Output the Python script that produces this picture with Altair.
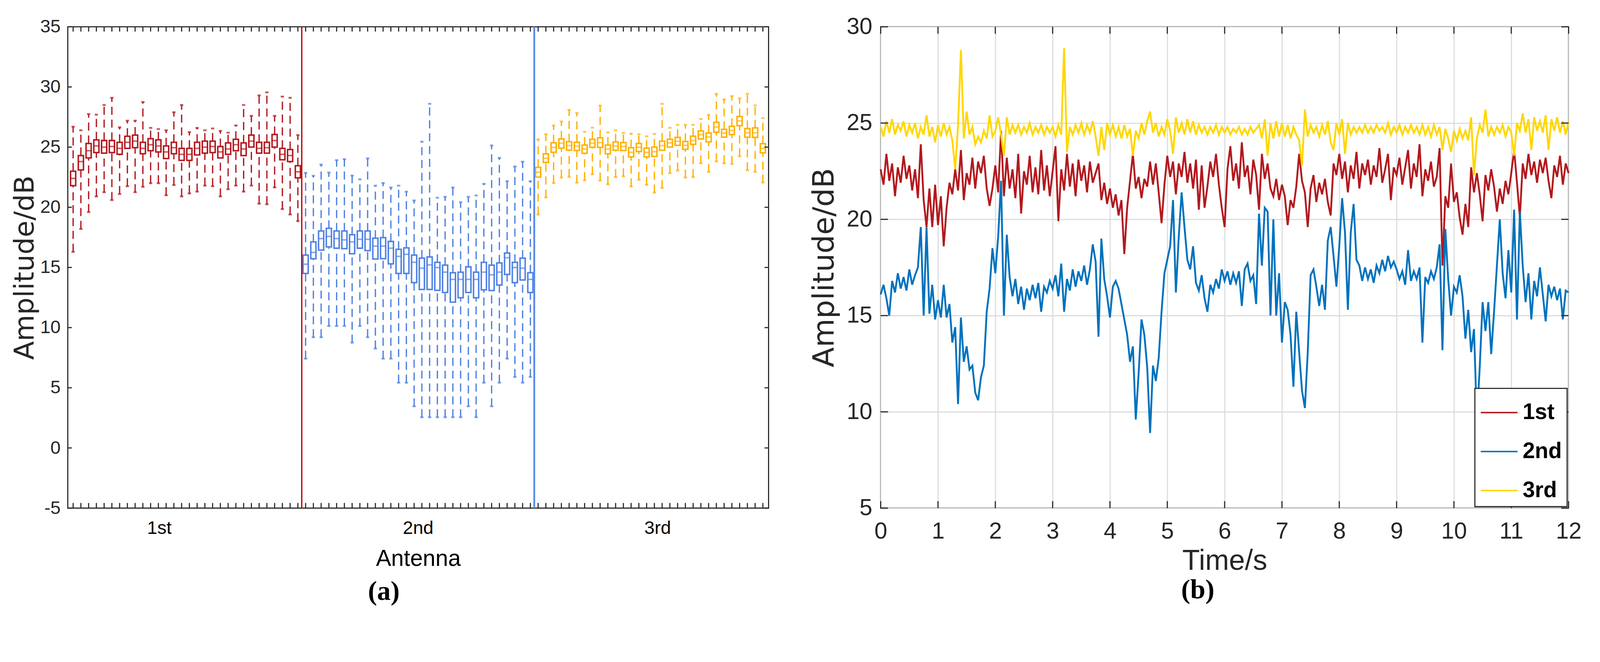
import altair as alt
import pandas as pd

NARROW = "Liberation Sans"
WIDE = "DejaVu Sans"
INK = "#262626"

# ---------------- panel (a): box statistics per antenna element ----------------
groups = ["1st", "2nd", "3rd"]
panel_labels = ["(a)", "(b)"]
box_colors = ["#B2181E", "#4F81E2", "#FFB000"]
sep_pos = [30.5, 60.5]
sep_colors = ["#C40000", "#5B8DEB"]
group_label_pos = [12.1, 45.5, 76.4]
ya_ticks = [-5, 0, 5, 10, 15, 20, 25, 30, 35]

first_hi = [26.7, 26.4, 27.75, 27.7, 28.5, 29.1, 26.65, 27.2, 27.2, 28.75, 26.6, 26.5, 26.4, 27.9, 28.5,
            26.25, 26.6, 26.4, 26.55, 26.35, 26.2, 26.8, 28.5, 27.6, 29.3, 29.55, 27.6, 29.2, 29.1, 26.0]
first_q3 = [23.0, 24.3, 25.3, 25.6, 25.55, 25.55, 25.4, 25.9, 26.0, 25.4, 25.7, 25.6, 25.1, 25.4, 24.9,
            24.9, 25.4, 25.5, 25.5, 25.05, 25.35, 25.65, 25.35, 26.0, 25.4, 25.4, 26.05, 24.9, 24.8, 23.45]
first_med = [22.4, 23.8, 24.7, 25.1, 25.0, 25.05, 24.9, 25.4, 25.5, 24.9, 25.2, 25.1, 24.6, 24.95, 24.4,
             24.4, 24.9, 25.0, 25.05, 24.6, 24.85, 25.2, 24.85, 25.5, 24.9, 24.95, 25.55, 24.4, 24.3, 22.95]
first_q1 = [21.8, 23.1, 24.1, 24.55, 24.5, 24.55, 24.4, 24.9, 24.95, 24.45, 24.7, 24.6, 24.05, 24.45, 23.9,
            23.9, 24.35, 24.5, 24.55, 24.1, 24.4, 24.7, 24.3, 25.0, 24.5, 24.5, 25.0, 23.95, 23.8, 22.45]
first_lo = [16.3, 18.2, 19.6, 20.9, 21.25, 20.6, 21.1, 21.75, 21.25, 21.7, 22.0, 22.0, 21.0, 21.85, 20.9,
            21.15, 21.3, 21.8, 21.75, 20.9, 21.5, 21.8, 21.3, 21.8, 20.3, 20.25, 21.65, 19.85, 19.4, 18.85]

second_hi = [22.86, 22.62, 23.55, 22.89, 23.92, 24.0, 22.64, 22.32, 24.06, 21.8, 22.02, 21.65, 21.8, 21.3, 20.57,
             25.45, 28.6, 20.79, 20.87, 21.64, 20.42, 20.87, 20.98, 21.95, 25.14, 24.11, 22.17, 23.39, 23.79, 22.17]
second_q3 = [16.03, 17.12, 18.03, 18.25, 18.03, 18.03, 17.72, 18.03, 18.03, 17.43, 17.48, 17.16, 16.51, 16.63, 16.03,
             15.78, 15.87, 15.43, 15.19, 14.56, 14.61, 15.05, 14.61, 15.43, 15.19, 15.38, 16.2, 15.43, 15.78, 14.56]
second_med = [15.27, 16.25, 17.4, 17.58, 17.4, 17.29, 17.12, 17.34, 17.34, 16.77, 16.77, 16.6, 15.92, 16.09, 15.43,
              14.94, 15.21, 14.99, 14.61, 14.01, 14.01, 14.01, 14.01, 14.61, 14.39, 14.61, 15.81, 14.99, 14.94, 14.01]
second_q1 = [14.5, 15.73, 16.44, 16.71, 16.6, 16.56, 16.14, 16.6, 16.4, 15.7, 15.73, 15.3, 14.5, 14.5, 13.74,
             13.17, 13.17, 13.1, 12.92, 12.12, 12.48, 12.92, 12.48, 13.14, 13.08, 13.54, 14.42, 13.74, 13.96, 12.92]
second_lo = [7.42, 9.2, 9.2, 10.13, 10.13, 10.13, 8.75, 10.13, 9.2, 8.26, 7.42, 7.42, 5.42, 5.42, 3.46,
             2.55, 2.55, 2.55, 2.55, 2.55, 2.55, 3.46, 2.55, 5.42, 3.46, 5.42, 7.42, 5.9, 5.42, 5.9]

third_hi = [25.65, 26.07, 26.8, 27.13, 28.1, 27.84, 26.27, 26.62, 28.45, 26.22, 26.4, 26.18, 26.12, 26.07, 25.9,
            26.09, 28.6, 26.61, 26.85, 26.85, 26.85, 27.34, 27.68, 29.43, 28.96, 29.24, 29.05, 29.43, 28.47, 27.41]
third_q3 = [23.32, 24.44, 25.36, 25.68, 25.45, 25.41, 25.17, 25.65, 25.77, 25.17, 25.43, 25.38, 24.95, 25.3, 24.92,
            25.0, 25.5, 25.65, 25.81, 25.47, 25.91, 26.35, 26.18, 27.06, 26.48, 26.73, 27.54, 26.54, 26.6, 25.29]
third_med = [22.91, 24.08, 24.98, 25.33, 25.13, 25.09, 24.85, 25.33, 25.37, 24.84, 25.1, 25.06, 24.57, 24.98, 24.57,
             24.62, 25.13, 25.35, 25.49, 25.15, 25.55, 26.04, 25.84, 26.67, 26.16, 26.39, 27.18, 26.19, 26.19, 24.89]
third_q1 = [22.51, 23.73, 24.57, 24.92, 24.75, 24.72, 24.49, 24.99, 24.98, 24.45, 24.74, 24.72, 24.19, 24.64, 24.19,
            24.23, 24.74, 25.0, 25.15, 24.82, 25.23, 25.68, 25.43, 26.24, 25.83, 26.04, 26.78, 25.82, 25.81, 24.52]
third_lo = [19.39, 20.82, 22.01, 22.47, 22.52, 22.04, 22.25, 22.74, 22.22, 21.91, 22.51, 22.57, 21.73, 22.28, 21.86,
            21.22, 21.61, 22.83, 23.05, 22.47, 22.51, 23.65, 22.94, 23.81, 23.65, 23.6, 24.24, 23.08, 22.94, 22.05]

# ---------------- panel (b): amplitude over time, 0.05 s steps ----------------
line_colors = ["#B2191E", "#0072BD", "#FFD700"]
xb_ticks = list(range(0, 13))
yb_ticks = [5, 10, 15, 20, 25, 30]

first_ts = [
    22.6, 21.8, 23.4, 22.0, 22.9, 21.2, 22.7, 21.9, 23.3, 22.1, 22.8, 21.5, 22.6, 21.1, 23.9, 21.0, 19.6, 21.6, 19.6, 21.8,
    19.7, 21.2, 18.6, 20.6, 21.9, 21.3, 22.6, 21.5, 23.6, 21.0, 22.4, 21.8, 23.2, 21.6, 23.0, 22.4, 23.3, 21.6, 20.7, 21.6,
    22.8, 21.4, 24.6, 21.2, 23.2, 21.6, 22.6, 21.1, 23.4, 20.3, 22.5, 21.8, 23.3, 21.4, 22.7, 21.3, 23.6, 21.5, 22.8, 21.2,
    22.5, 23.8, 19.9, 22.6, 21.5, 23.4, 21.7, 22.9, 21.2, 23.1, 22.0, 22.8, 21.4, 23.0, 21.9, 22.4, 22.9, 21.0, 21.9, 20.8,
    21.6, 20.6, 21.3, 20.2, 21.0, 18.2, 20.6, 22.0, 23.4, 21.6, 22.2, 21.1, 22.1, 21.7, 23.0, 21.8, 22.9, 21.4, 19.8, 21.8,
    23.3, 22.2, 23.0, 21.3, 22.9, 22.2, 23.5, 21.9, 22.9, 21.6, 23.1, 20.5, 22.8, 20.6, 21.7, 23.0, 22.2, 23.4, 21.8, 20.6,
    19.6, 22.6, 23.8, 22.0, 22.9, 21.6, 24.0, 22.2, 22.8, 21.3, 23.1, 22.3, 20.5, 23.4, 22.1, 22.9, 21.6, 21.2, 22.1, 21.0,
    21.8, 21.2, 19.7, 21.0, 20.6, 21.7, 23.4, 22.0, 21.4, 19.6, 21.6, 22.3, 20.9, 21.9, 21.3, 22.1, 20.9, 20.2, 22.9, 22.3,
    23.4, 22.1, 23.0, 21.4, 22.8, 22.1, 23.5, 21.6, 22.9, 22.3, 23.1, 21.8, 22.8, 22.2, 23.7, 21.9, 22.6, 23.4, 21.0, 22.7,
    22.3, 23.2, 21.8, 22.7, 23.6, 21.6, 22.9, 22.2, 23.9, 21.2, 22.6, 22.0, 23.0, 21.7, 22.2, 23.7, 17.6, 21.2, 20.6, 22.9,
    20.9, 21.4, 20.1, 19.2, 20.8, 19.6, 22.7, 21.4, 22.4, 21.3, 19.9, 22.3, 21.5, 22.6, 21.7, 20.4, 21.6, 20.8, 22.0, 21.3,
    22.4, 23.6, 21.9, 20.1, 22.9, 22.1, 23.4, 22.3, 23.0, 21.9, 23.1, 22.4, 23.2, 22.0, 21.1, 22.8, 22.2, 23.3, 21.8, 22.9,
    22.4]
second_ts = [
    16.1, 16.6, 15.9, 15.0, 16.8, 16.2, 17.2, 16.4, 17.0, 16.3, 17.4, 16.6, 17.1, 17.5, 19.6, 15.0, 19.6, 15.1, 16.6, 14.8,
    15.8, 14.9, 16.6, 14.9, 15.6, 13.6, 14.4, 10.4, 14.9, 12.6, 13.4, 12.2, 12.4, 11.0, 10.6, 11.8, 12.4, 15.2, 16.4, 18.5,
    17.2, 19.1, 22.0, 15.0, 19.2, 17.0, 16.0, 16.9, 15.6, 16.5, 15.3, 16.4, 15.8, 16.6, 15.9, 16.7, 15.2, 16.5, 16.2, 16.8,
    16.4, 17.1, 16.0, 17.7, 15.2, 16.9, 16.3, 17.4, 16.5, 17.3, 16.8, 17.6, 16.6, 17.4, 18.7, 17.8, 13.9, 19.0, 16.9, 16.0,
    14.9, 16.5, 16.8, 16.4, 15.6, 14.8, 14.0, 12.6, 13.4, 9.6, 12.0, 14.8, 14.0, 12.3, 8.9, 12.4, 11.6, 12.8, 15.2, 17.2,
    17.9, 18.6, 21.0, 16.2, 19.1, 21.4, 19.6, 17.9, 17.4, 18.6, 16.7, 16.3, 17.1, 15.9, 15.2, 16.6, 16.2, 16.9, 16.4, 17.4,
    16.8, 17.3, 16.6, 17.2, 16.7, 17.3, 15.5, 17.4, 17.7, 16.8, 17.1, 15.6, 20.3, 17.6, 20.6, 20.4, 15.0, 20.0, 15.0, 17.2,
    13.6, 15.7, 15.3, 14.0, 11.3, 15.2, 13.1, 11.1, 10.2, 13.1, 17.1, 17.4, 16.5, 15.5, 16.6, 15.3, 18.9, 19.6, 18.1, 16.5,
    18.6, 21.1, 19.3, 15.3, 19.3, 20.8, 17.9, 17.6, 16.8, 17.5, 16.9, 17.4, 16.7, 17.6, 17.2, 17.9, 17.3, 18.1, 17.5, 17.8,
    17.4, 16.9, 17.3, 16.6, 18.4, 16.8, 17.3, 16.9, 17.5, 13.6, 17.0, 16.7, 17.3, 16.9, 17.5, 18.7, 13.2, 19.5, 16.9, 15.0,
    16.5, 16.2, 17.1, 16.0, 13.8, 15.3, 13.1, 14.3, 9.6, 12.3, 15.7, 14.2, 15.7, 13.0, 15.2, 17.6, 20.0, 17.2, 15.9, 18.4,
    16.2, 20.5, 14.8, 20.4, 17.6, 15.7, 17.2, 14.8, 16.8, 16.0, 17.5, 16.1, 14.7, 16.6, 16.0, 16.5, 15.8, 16.4, 14.8, 16.3,
    16.2]
third_ts = [
    24.8, 24.3, 25.1, 24.5, 25.2, 24.4, 24.9, 24.6, 25.1, 24.3, 24.9, 24.5, 25.0, 24.2, 24.8, 24.4, 25.4, 24.3, 24.8, 24.0,
    24.9, 24.3, 25.0, 24.4, 24.8, 24.1, 22.6, 24.9, 28.8, 24.2, 25.6, 24.4, 24.8, 23.9, 24.3, 24.0, 24.6, 24.2, 25.4, 24.3,
    24.6, 25.3, 24.4, 23.3, 25.3, 24.4, 24.9, 24.5, 24.9, 24.4, 24.8, 24.5, 25.0, 24.4, 24.8, 24.5, 24.9, 24.4, 24.8, 24.5,
    24.8, 24.3, 24.9, 24.4, 28.9, 23.5, 24.8, 24.4, 24.9, 24.5, 25.0, 24.4, 24.9, 24.5, 25.1, 24.3, 23.3, 24.8, 23.6, 25.0,
    24.4, 24.9, 24.3, 24.8, 24.2, 24.9, 24.3, 24.7, 23.3, 24.6, 24.2, 25.0, 24.4, 25.1, 25.6, 24.5, 25.0, 24.3, 24.8, 24.4,
    25.2, 24.6, 23.4, 25.3, 24.5, 25.0, 24.4, 25.2, 24.5, 25.1, 24.4, 24.9, 24.5, 24.8, 24.4, 24.8, 24.5, 24.9, 24.4, 24.8,
    24.5, 24.8, 24.4, 24.7, 24.5, 24.8, 24.4, 24.7, 24.4, 24.8, 24.5, 24.7, 24.9, 24.2, 25.2, 23.3, 25.0, 24.2, 25.1, 24.3,
    25.0, 24.3, 24.9, 24.2, 24.8, 24.4, 24.1, 22.8, 25.7, 24.3, 24.9, 24.5, 24.8, 24.3, 24.9, 24.4, 25.1, 24.0, 23.6, 25.0,
    24.4, 25.2, 23.4, 25.0, 24.4, 24.8, 24.5, 24.8, 24.5, 24.9, 24.5, 24.8, 24.5, 24.9, 24.6, 24.8, 24.5, 25.0, 24.4, 24.8,
    24.5, 24.9, 24.4, 24.8, 24.5, 24.9, 24.5, 24.8, 24.4, 24.9, 24.4, 24.8, 24.3, 24.9, 24.4, 24.8, 23.6, 24.7, 24.2, 23.5,
    24.6, 24.1, 24.7, 24.2, 24.6, 24.1, 25.3, 22.3, 24.2, 24.9, 24.5, 25.7, 24.3, 24.8, 24.4, 24.8, 24.5, 24.9, 24.3, 24.8,
    24.5, 23.3, 25.0, 24.6, 25.5, 24.5, 25.2, 23.6, 25.3, 24.6, 25.1, 24.5, 25.4, 23.6, 25.2, 24.6, 25.3, 24.5, 25.1, 24.4,
    25.1]

# ---------------- tables ----------------
stats = {
    "1st": (first_hi, first_q3, first_med, first_q1, first_lo),
    "2nd": (second_hi, second_q3, second_med, second_q1, second_lo),
    "3rd": (third_hi, third_q3, third_med, third_q1, third_lo),
}
rows = []
pos = 1
for g in groups:
    hi, q3, med, q1, lo = stats[g]
    for i in range(len(hi)):
        rows.append({"pos": pos, "group": g, "hi": hi[i], "q3": q3[i], "med": med[i], "q1": q1[i], "lo": lo[i]})
        pos += 1
box_df = pd.DataFrame(rows)
caps_df = pd.concat([
    box_df[["pos", "group", "hi"]].rename(columns={"hi": "val"}),
    box_df[["pos", "group", "lo"]].rename(columns={"lo": "val"}),
])
sep_df = pd.DataFrame({"pos": sep_pos, "c": sep_colors, "w": [3.5, 5]})
xa_tick_df = pd.DataFrame({"pos": box_df["pos"]})
ya_tick_df = pd.DataFrame({"v": ya_ticks})

ts_rows = []
for g, vals in zip(groups, [first_ts, second_ts, third_ts]):
    for i, v in enumerate(vals):
        ts_rows.append({"t": round(i * 0.05, 2), "v": v, "series": g})
ts_df = pd.DataFrame(ts_rows)
xb_tick_df = pd.DataFrame({"t": xb_ticks})
yb_tick_df = pd.DataFrame({"v": yb_ticks})

# sub-figure captions, drawn below each panel
cap_style = dict(font="Liberation Serif", fontSize=74, fontWeight="bold", color="black",
                 align="center", baseline="middle")

# ---------------- panel (a) ----------------
W_A, H_A = 1907, 1310
xa = alt.Scale(domain=[0.55, 90.5], nice=False, zero=False)
ya = alt.Scale(domain=[-5, 35], nice=False, zero=False)
ca = alt.Scale(domain=groups, range=box_colors)

label_expr = "datum.value < {} ? '{}' : datum.value < {} ? '{}' : '{}'".format(
    sep_pos[0], groups[0], sep_pos[1], groups[1], groups[2])
xa_axis = alt.Axis(values=group_label_pos, labelExpr=label_expr, ticks=False, domain=False, grid=False,
                   labelFont=NARROW, labelFontSize=50, labelColor="black", labelPadding=30,
                   labelFlush=False, labelOverlap=False,
                   title="Antenna", titleFont=NARROW, titleFontSize=62, titleFontWeight="normal",
                   titleColor="black", titlePadding=28)
ya_axis = alt.Axis(values=ya_ticks, labelExpr="'' + datum.value", ticks=False, domain=False, grid=False,
                   labelFont=NARROW, labelFontSize=50, labelColor=INK, labelPadding=20,
                   title="Amplitude/dB", titleFont=WIDE, titleFontSize=74, titleFontWeight="normal",
                   titleColor=INK, titlePadding=2)

X_A = alt.X("pos:Q", scale=xa, axis=xa_axis)
col_a = alt.Color("group:N", scale=ca, legend=None)
base_a = alt.Chart(box_df)

whisk_lo = base_a.mark_rule(strokeWidth=3.5, strokeDash=[22, 13]).encode(
    x=X_A, y=alt.Y("lo:Q", scale=ya, axis=ya_axis), y2="q1:Q", color=col_a)
whisk_hi = base_a.mark_rule(strokeWidth=3.5, strokeDash=[22, 13]).encode(
    x=X_A, y=alt.Y("q3:Q", scale=ya, axis=ya_axis), y2="hi:Q", color=col_a)
boxes = base_a.mark_bar(size=14, fill="white", strokeWidth=4).encode(
    x=X_A, y=alt.Y("q1:Q", scale=ya, axis=ya_axis), y2="q3:Q",
    stroke=alt.Stroke("group:N", scale=ca, legend=None))
medians = base_a.mark_tick(orient="horizontal", size=14, thickness=4).encode(
    x=X_A, y=alt.Y("med:Q", scale=ya, axis=ya_axis), color=col_a)
caps = alt.Chart(caps_df).mark_tick(orient="horizontal", size=9, thickness=5).encode(
    x=X_A, y=alt.Y("val:Q", scale=ya, axis=ya_axis), color=col_a)
seps = alt.Chart(sep_df).mark_rule().encode(
    x=X_A, y=alt.value(0), y2=alt.value(H_A),
    color=alt.Color("c:N", scale=None), strokeWidth=alt.StrokeWidth("w:Q", scale=None))

tick_a = dict(color=INK, strokeWidth=3)
a_left = alt.Chart(ya_tick_df).mark_rule(**tick_a).encode(
    y=alt.Y("v:Q", scale=ya, axis=ya_axis), x=alt.value(0), x2=alt.value(11))
a_right = alt.Chart(ya_tick_df).mark_rule(**tick_a).encode(
    y=alt.Y("v:Q", scale=ya, axis=ya_axis), x=alt.value(W_A), x2=alt.value(W_A - 11))
a_top = alt.Chart(xa_tick_df).mark_rule(**tick_a).encode(
    x=X_A, y=alt.value(0), y2=alt.value(13))
a_bottom = alt.Chart(xa_tick_df).mark_rule(**tick_a).encode(
    x=X_A, y=alt.value(H_A), y2=alt.value(H_A - 14))
a_caption = alt.Chart(pd.DataFrame({"label": [panel_labels[0]]})).mark_text(**cap_style).encode(
    text="label:N", x=alt.value(860), y=alt.value(H_A + 228))

panel_a = alt.layer(whisk_lo, whisk_hi, boxes, medians, caps, seps,
                    a_left, a_right, a_top, a_bottom, a_caption).properties(width=W_A, height=H_A)

# ---------------- panel (b) ----------------
W_B, H_B = 1872, 1310
xb = alt.Scale(domain=[0, 12], nice=False, zero=False)
yb = alt.Scale(domain=[5, 30], nice=False, zero=False)
cb = alt.Scale(domain=groups, range=line_colors)

xb_axis = alt.Axis(values=xb_ticks, labelExpr="'' + datum.value", ticks=False, domain=False,
                   grid=True, gridColor="#DCDCDC", gridWidth=3,
                   labelFont=NARROW, labelFontSize=63, labelColor=INK, labelPadding=32,
                   labelFlush=False, labelOverlap=False,
                   title="Time/s", titleFont=NARROW, titleFontSize=78, titleFontWeight="normal",
                   titleColor=INK, titlePadding=10)
yb_axis = alt.Axis(values=yb_ticks, labelExpr="'' + datum.value", ticks=False, domain=False,
                   grid=True, gridColor="#DCDCDC", gridWidth=3,
                   labelFont=NARROW, labelFontSize=63, labelColor=INK, labelPadding=23,
                   title="Amplitude/dB", titleFont=WIDE, titleFontSize=80, titleFontWeight="normal",
                   titleColor=INK, titlePadding=18)

X_B = alt.X("t:Q", scale=xb, axis=xb_axis)
Y_B = alt.Y("v:Q", scale=yb, axis=yb_axis)

lines = alt.Chart(ts_df).mark_line(strokeWidth=5).encode(
    x=X_B, y=Y_B,
    color=alt.Color("series:N", scale=cb, legend=alt.Legend(
        title=None, orient="bottom-right", offset=4, padding=14, rowPadding=24,
        symbolType="stroke", symbolSize=10000, symbolStrokeWidth=4,
        labelFont=NARROW, labelFontSize=60, labelFontWeight="bold", labelColor="black",
        labelOffset=12, strokeColor=INK, fillColor="white")))

tick_b = dict(color=INK, strokeWidth=3)
b_left = alt.Chart(yb_tick_df).mark_rule(**tick_b).encode(y=Y_B, x=alt.value(0), x2=alt.value(20))
b_right = alt.Chart(yb_tick_df).mark_rule(**tick_b).encode(y=Y_B, x=alt.value(W_B), x2=alt.value(W_B - 20))
b_top = alt.Chart(xb_tick_df).mark_rule(**tick_b).encode(x=X_B, y=alt.value(0), y2=alt.value(19))
b_bottom = alt.Chart(xb_tick_df).mark_rule(**tick_b).encode(x=X_B, y=alt.value(H_B), y2=alt.value(H_B - 19))
b_caption = alt.Chart(pd.DataFrame({"label": [panel_labels[1]]})).mark_text(**cap_style).encode(
    text="label:N", x=alt.value(863), y=alt.value(H_B + 224))

panel_b = alt.layer(lines, b_left, b_right, b_top, b_bottom, b_caption).properties(width=W_B, height=H_B)

chart = alt.hconcat(panel_a, panel_b, spacing=108).resolve_scale(
    color="independent", stroke="independent"
).resolve_legend(
    color="independent"
).properties(
    padding={"left": 21, "top": -19, "right": 40, "bottom": 10},
    background="white",
).configure_view(
    stroke=INK, strokeWidth=3
).configure_legend(
    strokeWidth=3
)

chart.save("out.html", embed_options={"renderer": "svg", "actions": False})
